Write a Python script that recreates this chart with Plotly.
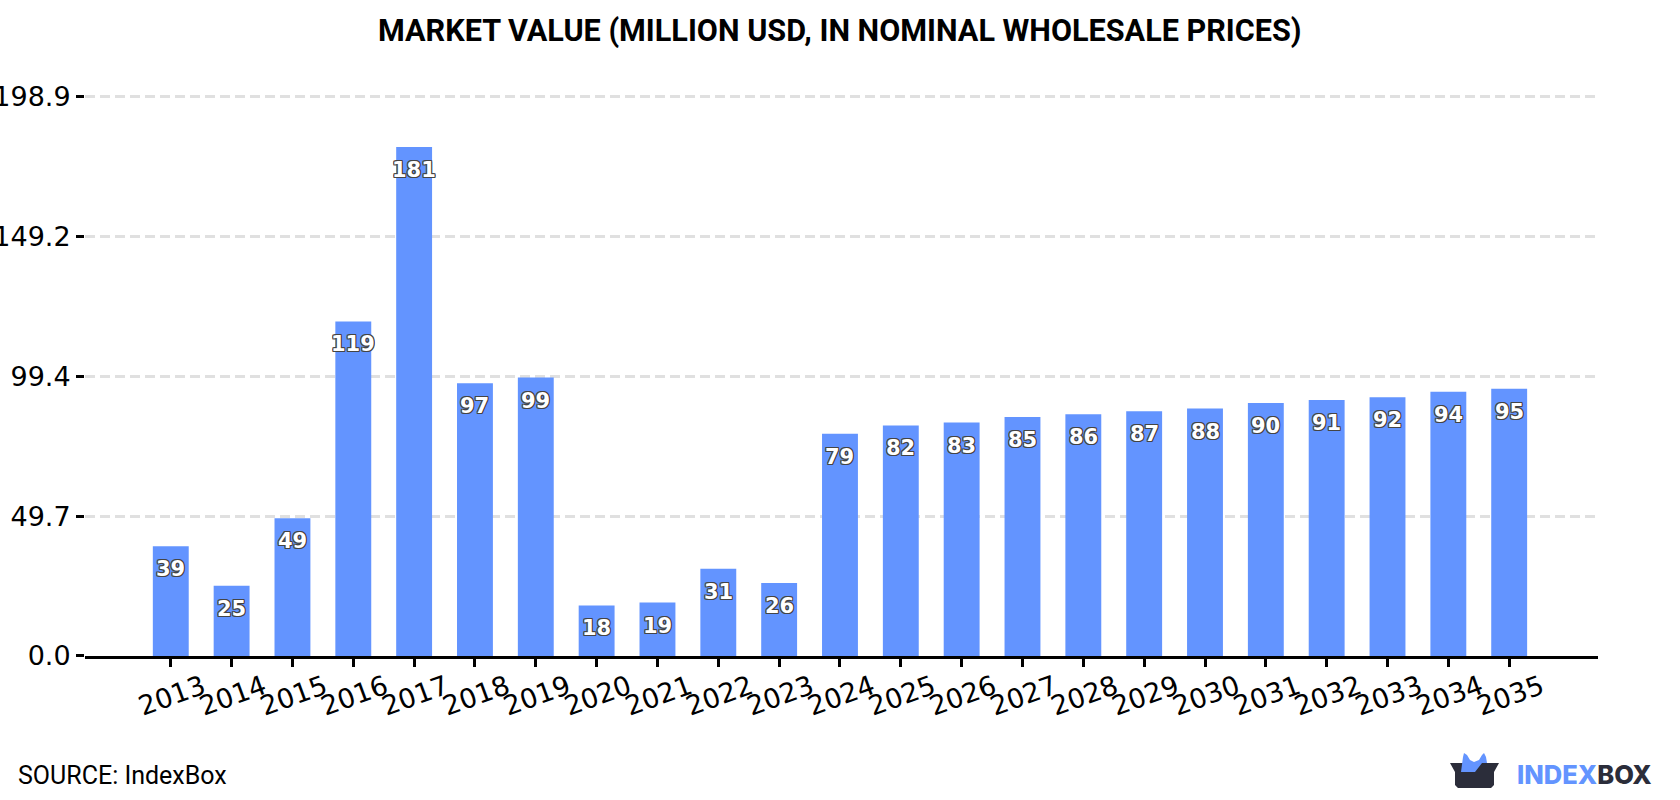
import plotly.graph_objects as go

years = [str(y) for y in range(2013, 2036)]
values = [39, 25, 49, 119, 181, 97, 99, 18, 19, 31, 26, 79, 82, 83, 85, 86, 87, 88, 90, 91, 92, 94, 95]
y_ticks = [0.0, 49.7, 99.4, 149.2, 198.9]
y_labels = ["0.0", "49.7", "99.4", "149.2", "198.9"]

BLUE = "#6394ff"
DARK = "#2b2d3a"
W, H = 1680, 800
OUTLINE = ",".join(f"{a}px {b}px 0 #444" for a, b in
                   [(-1, -1), (1, -1), (-1, 1), (1, 1), (0, 1), (1, 0), (-1, 0), (0, -1)])

fig = go.Figure(go.Bar(x=years, y=values, width=0.59, marker_color=BLUE, marker_line_width=0, hoverinfo="x+y"))

# Value labels sit just inside the top of each bar; category axes take the index here
annotations = [
    dict(x=i, y=v, yshift=-23, text=str(v), showarrow=False, xanchor="center", yanchor="middle",
         font=dict(family="DejaVu Sans", size=21, color="white", weight="bold", shadow=OUTLINE))
    for i, v in enumerate(values)
]
annotations += [
    dict(xref="paper", yref="paper", x=(378 + 1302) / 2 / W, y=1 - 31 / H, text="<b>MARKET VALUE (MILLION USD, IN NOMINAL WHOLESALE PRICES)</b>",
         showarrow=False, xanchor="center", yanchor="middle", font=dict(family="Roboto", size=30.6, color="black")),
    dict(xref="paper", yref="paper", x=15.5 / W, y=1 - 775 / H, text="SOURCE: IndexBox", showarrow=False,
         xanchor="left", yanchor="middle", font=dict(family="Roboto", size=25, color="black")),
    dict(xref="paper", yref="paper", x=1515 / W, y=1 - 774 / H, showarrow=False, xanchor="left", yanchor="middle",
         text=f'<span style="color:{BLUE}">INDEX</span><span style="color:{DARK}">BOX</span>',
         font=dict(family="Inter", size=25.5, weight=800)),
]

def px_x(x):
    return x / W

def px_y(y):
    return 1 - y / H

def path(points):
    return "M " + " L ".join(f"{px_x(x)},{px_y(y)}" for x, y in points) + " Z"

# Logo: a dark open box with a blue crown rising out of it
box = [(1450, 763), (1499, 763), (1494, 772), (1494, 785), (1491, 788),
       (1458, 788), (1455, 785), (1455, 772)]
crown = [(1461, 772), (1463, 757), (1464, 753), (1467, 755), (1470, 760), (1474, 762), (1479, 760),
         (1482, 755), (1484, 753), (1486, 757), (1487, 763), (1482, 763), (1475, 772)]

shapes = [
    dict(type="path", xref="paper", yref="paper", path=path(box), fillcolor=DARK, line_width=0),
    dict(type="path", xref="paper", yref="paper", path=path(crown), fillcolor=BLUE, line_width=0),
]

# The value axis runs slightly past its last tick so that tick's gridline is drawn
left, right, bottom = 85, 1598, 656
px_per_unit = (656 - 96.7) / 198.9
y_max = 205.0
top = bottom - y_max * px_per_unit

fig.update_layout(
    width=W, height=H,
    autosize=False,
    template="none",
    font=dict(family="DejaVu Sans"),
    paper_bgcolor="white",
    plot_bgcolor="white",
    margin=dict(l=0, r=0, t=0, b=0, pad=0),
    showlegend=False,
    annotations=annotations,
    shapes=shapes,
    xaxis=dict(
        automargin=False,
        domain=[left / W, right / W],
        type="category",
        range=[-1.41, 23.46],
        tickmode="array", tickvals=years, ticktext=years,
        tickangle=-20,
        ticklabelshift=32,
        ticklabelstandoff=-6,
        ticks="outside", ticklen=8, tickwidth=2.5, tickcolor="black",
        showline=True, linecolor="black", linewidth=3,
        showgrid=False,
        tickfont=dict(family="DejaVu Sans", size=27, color="black"),
    ),
    yaxis=dict(
        automargin=False,
        domain=[1 - bottom / H, 1 - top / H],
        range=[0, y_max],
        tickmode="array", tickvals=y_ticks, ticktext=y_labels,
        ticks="outside", ticklen=8, tickwidth=2.5, tickcolor="black",
        showline=False, zeroline=False,
        showgrid=True, gridcolor="#e0e0e0", gridwidth=2.5, griddash="10px,5px",
        tickfont=dict(family="DejaVu Sans", size=27, color="black"),
    ),
)

fig.write_html("out.html", config={"displayModeBar": False})
